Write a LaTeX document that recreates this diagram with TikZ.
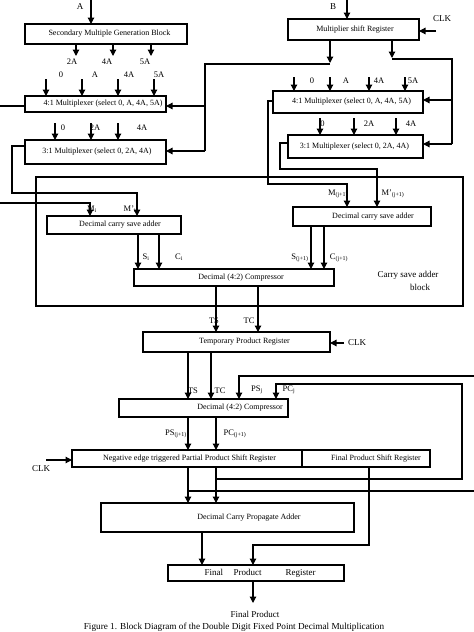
\documentclass[tikz,border=0pt]{standalone}
\usepackage{fontspec}
\setmainfont{Liberation Serif}
\usetikzlibrary{arrows.meta}
\newcommand\fb{\fontsize{8}{9}\selectfont}
\newcommand\fl{\fontsize{8.5}{9.5}\selectfont}
\newcommand\fc{\fontsize{9}{10}\selectfont}
\newcommand\bx[6][]{\node[box,#1, minimum width={(#5)-(#3)}, minimum height={(#6)-(#4)}] (#2) at ({((#3)+(#5))/2},{((#4)+(#6))/2}) {};}
\begin{document}
\begin{tikzpicture}[x=1pt,y=-1pt,
 box/.style={draw, line width=1.1pt, inner sep=0pt, outer sep=0pt},
 ln/.style={line width=1.2pt},
 arr/.style={line width=1.2pt, -{Triangle[length=6.5pt,width=6.5pt]}},
 tx/.style={font=\fb, inner sep=0pt},
 lb/.style={font=\fl, inner sep=0pt},
 big/.style={font=\fc, inner sep=0pt}]
\useasboundingbox (0,0) rectangle (474,632);
\fill[white] (0,0) rectangle (474,632);
% boxes
\bx{smg}{25}{24}{187}{44}
\bx{mux4L}{25}{96}{166}{112}
\bx{mux3L}{25}{140}{166}{164}
\bx{msr}{288}{19}{419}{40}
\bx{mux4R}{273}{91}{423}{113}
\bx{mux3R}{288}{135}{423}{158}
\bx[line width=1.5pt]{csab}{36}{177}{463}{306}
\bx{dcsaL}{47}{216}{181}{234}
\bx{dcsaR}{293}{207}{431}{226}
\bx{compA}{134}{269}{334}{286}
\bx{tpr}{143}{332}{330}{352}
\bx{compB}{119}{399}{288}{417}
\bx{ppsr}{72}{450}{302}{467}
\bx{fpsr}{302}{450}{430}{467}
\bx{dcpa}{101}{503}{354}{532}
\bx{fpr}{168}{565}{344}{581}
% box texts
\node[tx] (smgT) at (109.5,34) {Secondary Multiple Generation Block};
\node[tx] (mux4LT) at (103,104) {4:1 Multiplexer (select 0, A, 4A, 5A)};
\node[tx] (mux3LT) at (97,152) {3:1 Multiplexer (select 0, 2A, 4A)};
\node[tx] (msrT) at (355,29.5) {Multiplier shift Register};
\node[tx] (mux4RT) at (351.5,102) {4:1 Multiplexer (select 0, A, 4A, 5A)};
\node[tx] (mux3RT) at (354.5,146.5) {3:1 Multiplexer (select 0, 2A, 4A)};
\node[tx] (dcsaLT) at (120,225) {Decimal carry save adder};
\node[tx] (dcsaRT) at (373,216.5) {Decimal carry save adder};
\node[tx] (compAT) at (241,277.5) {Decimal (4:2) Compressor};
\node[tx] (tprT) at (244.5,342) {Temporary Product Register};
\node[tx] (compBT) at (240,408) {Decimal (4:2) Compressor};
\node[tx] (ppsrT) at (189.5,458.5) {Negative edge triggered Partial Product Shift Register};
\node[tx] (fpsrT) at (376,458.5) {Final Product Shift Register};
\node[tx] (dcpaT) at (249,517.5) {Decimal Carry Propagate Adder};
\node[big] (fprT) at (260,573) {Final\hspace{10.5pt}Product\hspace{24pt}Register};
\node[big] (csabT1) at (408,275) {Carry save adder};
\node[big] (csabT2) at (420,287) {block};
% input A
\coordinate (Ain) at (91,0);
\draw[arr] (Ain) -- (smg.north -| Ain);
\node[big] (Alab) at (80,7) {A};
\foreach \x/\t/\lx in {76/2A/72, 113/4A/107, 151/5A/145}{
  \draw[arr] (smg.south -| \x,0) -- (\x,56);
  \node[lb] (smgO\x) at (\lx,62) {\t};}
\foreach \x/\t/\lx in {46/0/61, 82/A/95, 118/4A/129, 154/5A/159}{
  \draw[arr] (\x,79) -- (mux4L.north -| \x,0);
  \node[lb] (iL\x) at (\lx,75) {\t};}
\foreach \x/\t/\lx in {55/0/63, 91/2A/95, 118/4A/142}{
  \draw[arr] (\x,123) -- (mux3L.north -| \x,0);
  \node[lb] (jL\x) at (\lx,128) {\t};}
% input B
\coordinate (Bin) at (347,0);
\draw[arr] (Bin) -- (msr.north -| Bin);
\node[big] (Blab) at (333,7) {B};
\draw[arr] (436,31) -- (msr.east |- 0,31);
\node[big] (clk1) at (442,19) {CLK};
\foreach \x/\t/\lx in {294/0/312, 330/A/346, 369/4A/379, 405/5A/413}{
  \draw[arr] (\x,77) -- (mux4R.north -| \x,0);
  \node[lb] (iR\x) at (\lx,81) {\t};}
\foreach \x/\t/\lx in {320/0/322.5, 354/2A/369, 396/4A/411}{
  \draw[arr] (\x,118) -- (mux3R.north -| \x,0);
  \node[lb] (jR\x) at (\lx,124) {\t};}
% select lines from multiplier shift register
\draw[arr] (msr.south -| 330,0) -- (330,63);
\draw[ln] (330,64) -- (205,64) -- (205,151);
\draw[arr] (205,106) -- (mux4L.east |- 0,106);
\draw[arr] (205,151) -- (mux3L.east |- 0,151);
\draw[arr] (msr.south -| 392,0) -- (392,58);
\draw[ln] (392,59) -- (452,59) -- (452,144);
\draw[arr] (452,100) -- (mux4R.east |- 0,100);
\draw[arr] (452,144) -- (mux3R.east |- 0,144);
% mux outputs
\draw[ln] (mux4L.west |- 0,106) -- (0,106);
\draw[arr] (0,203) -- (90,203) -- (dcsaL.north -| 90,0);
\draw[arr] (mux3L.west |- 0,146) -- (12,146) -- (12,193) -- (137,193) -- (dcsaL.north -| 137,0);
\draw[arr] (mux4R.west |- 0,101) -- (268,101) -- (268,184) -- (347,184) -- (dcsaR.north -| 347,0);
\draw[arr] (mux3R.west |- 0,143) -- (280,143) -- (280,169) -- (377,169) -- (dcsaR.north -| 377,0);
\node[lb] (mi) at (92,209) {M\textsubscript{i}};
\node[lb] (mpi) at (130,209) {M'\textsubscript{i}};
\node[lb] (mj) at (338,194) {M\textsubscript{(j+1)}};
\node[lb] (mpj) at (393,194) {M'\textsubscript{(j+1)}};
% carry save adders to compressor
\draw[arr] (dcsaL.south -| 138,0) -- (compA.north -| 138,0);
\draw[arr] (dcsaL.south -| 159,0) -- (compA.north -| 159,0);
\node[lb] (si) at (146,257) {S\textsubscript{i}};
\node[lb] (ci) at (179,257) {C\textsubscript{i}};
\draw[arr] (dcsaR.south -| 311,0) -- (compA.north -| 311,0);
\draw[arr] (dcsaR.south -| 324,0) -- (compA.north -| 324,0);
\node[lb] (sj) at (300,258) {S\textsubscript{(j+1)}};
\node[lb] (cj) at (339,258) {C\textsubscript{(j+1)}};
% compressor to temporary register
\draw[arr] (compA.south -| 216,0) -- (tpr.north -| 216,0);
\draw[arr] (compA.south -| 258,0) -- (tpr.north -| 258,0);
\node[lb] (ts1) at (214,321) {TS};
\node[lb] (tc1) at (249,321) {TC};
\draw[arr] (344,343) -- (tpr.east |- 0,343);
\node[big] (clk2) at (357,343) {CLK};
% temporary register to compressor 2
\draw[arr] (tpr.south -| 188,0) -- (compB.north -| 188,0);
\draw[arr] (tpr.south -| 211,0) -- (compB.north -| 211,0);
\node[lb] (ts2) at (193,391) {TS};
\node[lb] (tc2) at (220,391) {TC};
\draw[arr] (474,376) -- (239,376) -- (compB.north -| 239,0);
\node[lb] (psj) at (257,390) {PS\textsubscript{j}};
\draw[arr] (216,479) -- (462,479) -- (462,384) -- (276,384) -- (compB.north -| 276,0);
\node[lb] (pcj) at (289,390) {PC\textsubscript{j}};
% compressor 2 to shift register
\draw[arr] (compB.south -| 188,0) -- (ppsr.north -| 188,0);
\draw[arr] (compB.south -| 216,0) -- (ppsr.north -| 216,0);
\node[lb] (psj1) at (176,434) {PS\textsubscript{(j+1)}};
\node[lb] (pcj1) at (235,434) {PC\textsubscript{(j+1)}};
\draw[arr] (46,460) -- (ppsr.west |- 0,460);
\node[big] (clk3) at (41,469) {CLK};
% shift register to CPA
\draw[arr] (ppsr.south -| 188,0) -- (dcpa.north -| 188,0);
\draw[arr] (ppsr.south -| 216,0) -- (dcpa.north -| 216,0);
\draw[ln] (188,491) -- (474,491);
% to final product register
\draw[arr] (dcpa.south -| 202,0) -- (fpr.north -| 202,0);
\draw[arr] (fpsr.south -| 369,0) -- (369,545) -- (253,545) -- (fpr.north -| 253,0);
\draw[arr] (fpr.south -| 253,0) -- (253,603);
\node[big] (fp) at (255,614) {Final Product};
\node[font=\fontsize{9.2}{10}\selectfont, inner sep=0pt, anchor=base] (cap) at (234,629.5) {Figure 1. Block Diagram of the Double Digit Fixed Point Decimal Multiplication};
\end{tikzpicture}
\end{document}
